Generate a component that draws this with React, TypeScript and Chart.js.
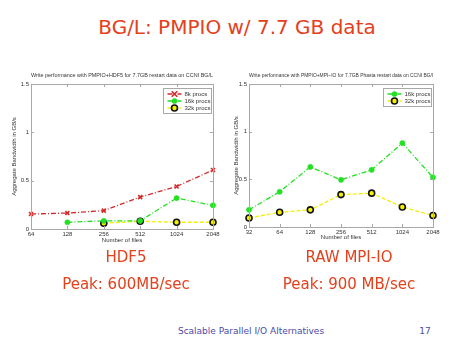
import React, { useEffect, useRef } from "react";
import { Chart, registerables } from "chart.js";

Chart.register(...registerables);

const hdfLabels = ["64", "128", "256", "512", "1024", "2048"];
const hdf8k = [0.155, 0.165, 0.19, 0.33, 0.44, 0.61];
const hdf16k = [null, 0.07, 0.085, 0.085, 0.32, 0.245];
const hdf32k = [null, null, 0.06, 0.08, 0.07, 0.07];

const mpiLabels = ["32", "64", "128", "256", "512", "1024", "2048"];
const mpi16k = [0.18, 0.37, 0.63, 0.495, 0.6, 0.88, 0.52];
const mpi32k = [0.095, 0.155, 0.18, 0.34, 0.355, 0.21, 0.12];

const yTickValues = [0, 0.5, 1, 1.5];

const RED = "#d42a2a";
const GREEN = "#22e022";
const YELLOW = "#f4f000";
const AXIS = "#a8a8a8";
const TEXT = "#333333";
const FONT = "'Liberation Sans', Arial, sans-serif";

function drawMarker(ctx: CanvasRenderingContext2D, ds: any, x: number, y: number) {
  const r = ds.pointRadius;
  ctx.save();
  ctx.lineWidth = ds.pointBorderWidth;
  ctx.strokeStyle = ds.pointBorderColor;
  ctx.fillStyle = ds.pointBackgroundColor;
  ctx.setLineDash([]);
  if (ds.pointStyle === "crossRot") {
    ctx.beginPath();
    ctx.moveTo(x - r, y - r);
    ctx.lineTo(x + r, y + r);
    ctx.moveTo(x - r, y + r);
    ctx.lineTo(x + r, y - r);
    ctx.stroke();
  } else {
    ctx.beginPath();
    ctx.arc(x, y, r, 0, Math.PI * 2);
    ctx.fill();
    ctx.stroke();
  }
  ctx.restore();
}

const boxPlugin = {
  id: "boxPlugin",
  afterDraw(chart: any, _args: any, opts: any) {
    const { ctx, chartArea: a } = chart;
    ctx.save();
    ctx.strokeStyle = AXIS;
    ctx.lineWidth = 1;
    ctx.setLineDash([]);
    ctx.strokeRect(Math.round(a.left) + 0.5, Math.round(a.top) + 0.5, Math.round(a.right - a.left), Math.round(a.bottom - a.top));
    const xs = chart.scales.x;
    const ys = chart.scales.y;
    ctx.beginPath();
    xs.ticks.forEach((_t: any, i: number) => {
      const x = Math.round(xs.getPixelForTick(i)) + 0.5;
      ctx.moveTo(x, a.bottom);
      ctx.lineTo(x, a.bottom - 3);
      ctx.moveTo(x, a.top);
      ctx.lineTo(x, a.top + 3);
    });
    ys.ticks.forEach((_t: any, i: number) => {
      const y = Math.round(ys.getPixelForTick(i)) + 0.5;
      ctx.moveTo(a.left, y);
      ctx.lineTo(a.left + 3, y);
      ctx.moveTo(a.right, y);
      ctx.lineTo(a.right - 3, y);
    });
    ctx.stroke();

    // legend inside the plot, top-right
    const dsets = chart.data.datasets;
    const rowH = 7;
    const w = opts.width;
    const h = dsets.length * rowH + 4;
    const bx = Math.round(a.right - w - 2) + 0.5;
    const by = Math.round(a.top + 4) + 0.5;
    ctx.fillStyle = "#ffffff";
    ctx.fillRect(bx, by, w, h);
    ctx.strokeStyle = AXIS;
    ctx.strokeRect(bx, by, w, h);
    ctx.font = `6px ${FONT}`;
    ctx.textBaseline = "middle";
    ctx.textAlign = "left";
    dsets.forEach((ds: any, i: number) => {
      const cy = by + 2 + rowH * i + rowH / 2;
      ctx.save();
      ctx.strokeStyle = ds.borderColor;
      ctx.lineWidth = ds.borderWidth;
      ctx.setLineDash(ds.borderDash || []);
      ctx.beginPath();
      ctx.moveTo(bx + 4, cy);
      ctx.lineTo(bx + 18, cy);
      ctx.stroke();
      ctx.restore();
      drawMarker(ctx, ds, bx + 11, cy);
      ctx.fillStyle = TEXT;
      ctx.fillText(ds.label, bx + 21, cy);
    });
    ctx.restore();
  },
};

function makeSet(label: string, data: (number | null)[], kind: string) {
  if (kind === "8k") {
    return {
      label, data, borderColor: RED, backgroundColor: RED, borderWidth: 1.3,
      borderDash: [5, 2, 1, 2], pointStyle: "crossRot", pointRadius: 2.8,
      pointBorderWidth: 1.6, pointBorderColor: RED, pointBackgroundColor: RED,
      spanGaps: false,
    };
  }
  if (kind === "16k") {
    return {
      label, data, borderColor: GREEN, backgroundColor: GREEN, borderWidth: 1.3,
      borderDash: [5, 2, 1, 2], pointStyle: "circle", pointRadius: 2.6,
      pointBorderWidth: 0.5, pointBorderColor: GREEN, pointBackgroundColor: GREEN,
      spanGaps: false,
    };
  }
  return {
    label, data, borderColor: YELLOW, backgroundColor: YELLOW, borderWidth: 1.3,
    borderDash: [4, 2], pointStyle: "circle", pointRadius: 3,
    pointBorderWidth: 1.6, pointBorderColor: "#111111", pointBackgroundColor: YELLOW,
    spanGaps: false,
  };
}

function makeConfig(
  title: string,
  labels: string[],
  datasets: any[],
  o: { yw: number; xh: number; padR: number; yTitlePad: number; xTitlePad: number; legendW: number }
): any {
  return {
    type: "line",
    data: { labels, datasets },
    plugins: [boxPlugin],
    options: {
      animation: false,
      responsive: false,
      maintainAspectRatio: false,
      layout: { padding: { left: 0, right: o.padR, top: 0, bottom: 0 } },
      elements: { line: { tension: 0 } },
      plugins: {
        legend: { display: false },
        tooltip: { enabled: false },
        boxPlugin: { width: o.legendW },
        title: {
          display: true,
          text: title,
          fullSize: false,
          color: TEXT,
          font: { family: FONT, size: 6, lineHeight: 1, weight: "normal" },
          padding: { top: 12, bottom: 6 },
        },
      },
      scales: {
        x: {
          type: "category",
          offset: false,
          grid: { display: false, drawTicks: false },
          border: { display: false },
          ticks: {
            color: TEXT, padding: 2, autoSkip: false, maxRotation: 0,
            font: { family: FONT, size: 6 },
          },
          title: {
            display: true, text: "Number of files", color: TEXT,
            font: { family: FONT, size: 6, lineHeight: 1.2 },
            padding: { top: 0, bottom: o.xTitlePad },
          },
          afterFit: (s: any) => { s.height = o.xh; },
        },
        y: {
          min: 0,
          max: 1.5,
          grid: { display: false, drawTicks: false },
          border: { display: false },
          afterBuildTicks: (s: any) => { s.ticks = yTickValues.map((v) => ({ value: v })); },
          ticks: {
            color: TEXT, padding: 2,
            font: { family: FONT, size: 6 },
            callback: (v: any) => String(v),
          },
          title: {
            display: true, text: "Aggregate Bandwidth in GB/s", color: TEXT,
            font: { family: FONT, size: 6, lineHeight: 1.2 },
            padding: { top: o.yTitlePad, bottom: 0 },
          },
          afterFit: (s: any) => { s.width = o.yw; },
        },
      },
    },
  };
}

function ChartBox(props: { config: any; left: number; top: number; width: number; height: number }) {
  const ref = useRef<HTMLCanvasElement | null>(null);
  useEffect(() => {
    if (!ref.current) return;
    const c = new Chart(ref.current, props.config);
    return () => c.destroy();
  }, []);
  return (
    <div style={{ position: "absolute", left: props.left, top: props.top, width: props.width, height: props.height }}>
      <canvas ref={ref} width={props.width} height={props.height} style={{ width: props.width, height: props.height, display: "block" }} />
    </div>
  );
}

const slideFont = "'DejaVu Sans', sans-serif";
const ORANGE = "#e4401c";

export default function App() {
  const leftCfg = makeConfig(
    "Write performance with PMPIO+HDF5 for 7.7GB restart data on CCNI BG/L",
    hdfLabels,
    [makeSet("8k procs", hdf8k, "8k"), makeSet("16k procs", hdf16k, "16k"), makeSet("32k procs", hdf32k, "32k")],
    { yw: 31, xh: 21, padR: 24, yTitlePad: 11, xTitlePad: 6, legendW: 48 }
  );
  const rightCfg = makeConfig(
    "Write performance with PMPIO+MPI\u2212IO for 7.7GB Phasta restart data on CCNI BG/l",
    mpiLabels,
    [makeSet("16k procs", mpi16k, "16k"), makeSet("32k procs", mpi32k, "32k")],
    { yw: 23, xh: 23, padR: 23, yTitlePad: 7, xTitlePad: 9, legendW: 48 }
  );
  const center = (x: number, y: number, size: number, color: string, text: string) => (
    <div style={{
      position: "absolute", left: x - 200, top: y - size * 0.6, width: 400, textAlign: "center",
      fontFamily: slideFont, fontSize: size, lineHeight: `${size * 1.2}px`, color, whiteSpace: "nowrap",
    }}>{text}</div>
  );
  return (
    <div style={{ position: "absolute", left: 0, top: 0, width: 474, height: 355, background: "#ffffff", overflow: "hidden" }}>
      {center(237, 27, 20, ORANGE, "BG/L: PMPIO w/ 7.7 GB data")}
      <ChartBox config={leftCfg} left={0} top={60} width={237} height={190} />
      <ChartBox config={rightCfg} left={226} top={60} width={230} height={190} />
      {center(126, 257, 15, ORANGE, "HDF5")}
      {center(126, 284, 15, ORANGE, "Peak: 600MB/sec")}
      {center(349, 257, 15, ORANGE, "RAW MPI-IO")}
      {center(349, 284, 15, ORANGE, "Peak: 900 MB/sec")}
      {center(251, 331, 9, "#4a4aa8", "Scalable Parallel I/O Alternatives")}
      {center(425, 331, 9, "#4a4aa8", "17")}
    </div>
  );
}
